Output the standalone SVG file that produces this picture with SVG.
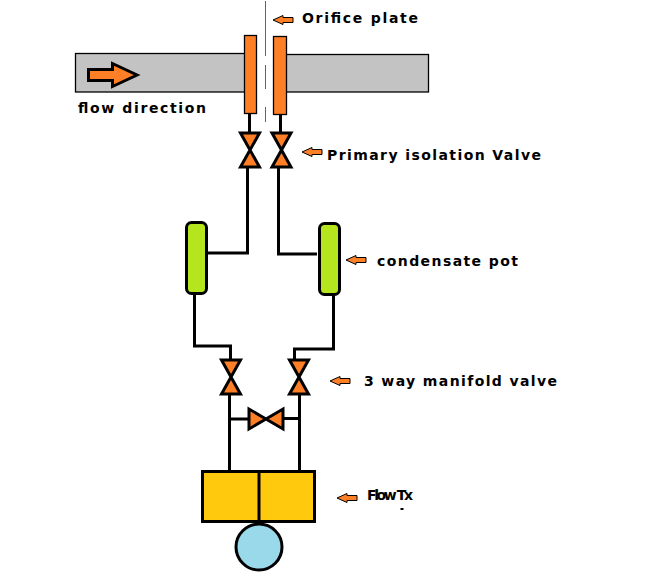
<svg xmlns="http://www.w3.org/2000/svg" width="645" height="572" viewBox="0 0 645 572">
<style>
.pipe{fill:#c3c3c3;stroke:#000;stroke-width:1.3}
.plate{fill:#ff7f27;stroke:#000;stroke-width:1.3}
.line{fill:none;stroke:#000;stroke-width:3}
.v{fill:#ff7f27;stroke:#000;stroke-width:3;stroke-linejoin:miter}
.pot{fill:#b5e61d;stroke:#000;stroke-width:3}
.tag{fill:#ff7f27;stroke:#000;stroke-width:1}
.t{font-family:"DejaVu Sans",sans-serif;font-weight:700;font-size:14px;fill:#000}
</style>
<defs>
<path id="valve" class="v" d="M-9.500-17H9.500L-9.500 17H9.500Z"/>
<path id="tag" class="tag" d="M0 0L10-4.500V-2.500H20V2.500H10V4.500Z"/>
</defs>
<rect width="645" height="572" fill="#fff"/>
<g id="pipe">
<rect class="pipe" x="75.500" y="53.500" width="170" height="38.500"/>
<rect class="pipe" x="286" y="54.500" width="142.500" height="37.500"/>
</g>
<g id="flow-arrow"><path d="M88.500 69.500H112.500V63.500L137 75L112.500 86.500V80.500H88.500Z" fill="#ff7f27" stroke="#000" stroke-width="3"/></g>
<g id="connectors">
<path class="line" d="M249.500 113V132M280.500 114V132"/>
<path class="line" d="M247.500 168V253H207"/>
<path class="line" d="M278.500 168V254H317"/>
<path class="line" d="M194.500 294V346H230.500V360"/>
<path class="line" d="M333.500 295V349H294.500V360"/>
<path class="line" d="M229.500 394V471M299.500 394V471"/>
<path class="line" d="M229.500 419H249M283 418.500H299.500"/>
<path d="M265.500 1V56M265.500 65V89M265.500 107V122" fill="none" stroke="#5a5ab4" stroke-width="1"/>
</g>
<g id="orifice-plate">
<rect class="plate" x="244.500" y="35.500" width="12" height="78"/>
<rect class="plate" x="273.500" y="36.500" width="13" height="78"/>
</g>
<g id="primary-valve-left"><use href="#valve" x="250" y="150"/></g>
<g id="primary-valve-right"><use href="#valve" x="281.500" y="150"/></g>
<g id="condensate-pot-left"><rect class="pot" x="186.500" y="222.500" width="20" height="71" rx="5"/></g>
<g id="condensate-pot-right"><rect class="pot" x="319.500" y="223.500" width="20" height="71" rx="5"/></g>
<g id="manifold-valve-left"><use href="#valve" x="231" y="377"/></g>
<g id="manifold-valve-right"><use href="#valve" x="299" y="377"/></g>
<g id="manifold-valve-equalizer"><path class="v" d="M249-10V10L283-10V10Z" transform="translate(0 419)"/></g>
<g id="flow-tx">
<rect x="202.500" y="471.500" width="112" height="50" fill="#ffc90e" stroke="#000" stroke-width="3"/>
<path class="line" d="M259 471V522"/>
<circle cx="259" cy="547" r="23" fill="#99d9ea" stroke="#000" stroke-width="3"/>
<rect x="400.500" y="508" width="3" height="2" fill="#000"/>
</g>
<g id="label-orifice"><use href="#tag" x="273" y="20"/><text class="t" x="302" y="23" textLength="116">Orifice plate</text></g>
<g id="label-flow"><text class="t" x="78" y="113" textLength="128">flow direction</text></g>
<g id="label-primary"><use href="#tag" x="302" y="152"/><text class="t" x="327" y="160" textLength="214">Primary isolation Valve</text></g>
<g id="label-condensate"><use href="#tag" x="346" y="260"/><text class="t" x="377" y="266" textLength="141">condensate pot</text></g>
<g id="label-manifold"><use href="#tag" x="330" y="381"/><text class="t" x="364" y="386" textLength="193">3 way manifold valve</text></g>
<g id="label-tx"><use href="#tag" x="337" y="498"/><text class="t" x="367" y="500" textLength="46">Flow Tx</text></g>
</svg>
